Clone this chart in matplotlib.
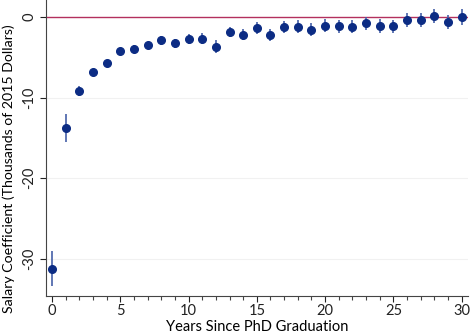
import numpy as np
import matplotlib
matplotlib.use('Agg')
import matplotlib.pyplot as plt
from matplotlib.ticker import MultipleLocator

plt.rcParams['font.family'] = ['Lato', 'DejaVu Sans']

# data
years = list(range(0, 31))
coef = [-31.2, -13.8, -9.2, -6.8, -5.7, -4.2, -3.95, -3.5, -2.9, -3.25,
        -2.7, -2.7, -3.7, -1.9, -2.2, -1.4, -2.2, -1.3, -1.2, -1.6,
        -1.1, -1.15, -1.2, -0.8, -1.1, -1.15, -0.4, -0.4, 0.1, -0.6, -0.05]
err = [2.2, 1.7, 0.6, 0.4, 0.4, 0.4, 0.45, 0.45, 0.55, 0.55,
       0.6, 0.65, 0.8, 0.6, 0.65, 0.75, 0.75, 0.75, 0.8, 0.8,
       0.8, 0.8, 0.8, 0.8, 0.85, 0.8, 0.85, 0.9, 0.9, 0.85, 1.0]
yticks = [0, -10, -20, -30]
xticks = [0, 5, 10, 15, 20, 25, 30]

fig = plt.figure(figsize=(4.74, 3.34), dpi=100)
ax = fig.add_axes([0.097, 0.114, 0.89, 0.886])

for y in yticks[1:]:
    ax.axhline(y, color='#f1f1f1', lw=0.8, zorder=0)
ax.axhline(0, color='#b3305e', lw=1.0, zorder=1)

ax.errorbar(years, coef, yerr=err, fmt='o', color='#0c2c84', ms=5.5,
            ecolor='#4660a8', elinewidth=1.2, capsize=0, zorder=3)

ax.set_xlim(-0.44, 30.45)
ax.set_ylim(-34.6, 2.1)
ax.set_xticks(xticks)
ax.xaxis.set_minor_locator(MultipleLocator(1))
ax.set_yticks(yticks)
ax.set_yticklabels([str(v) for v in yticks], rotation=90, va='center')

for s in ['top', 'right']:
    ax.spines[s].set_visible(False)
ax.spines['left'].set_color('#444444')
ax.spines['bottom'].set_color('#444444')
ax.tick_params(axis='both', labelsize=10.5, colors='#222222', length=4, width=0.8)
ax.tick_params(axis='x', which='minor', length=3, width=0.8, color='#444444')
ax.tick_params(axis='x', pad=2)
ax.tick_params(axis='y', pad=3)

ax.set_xlabel('Years Since PhD Graduation', fontsize=10.5, labelpad=1)
ax.set_ylabel('Salary Coefficient (Thousands of 2015 Dollars)', fontsize=10.2)
ax.yaxis.set_label_coords(-0.074, 0.43)

plt.savefig('out.png', dpi=100)
